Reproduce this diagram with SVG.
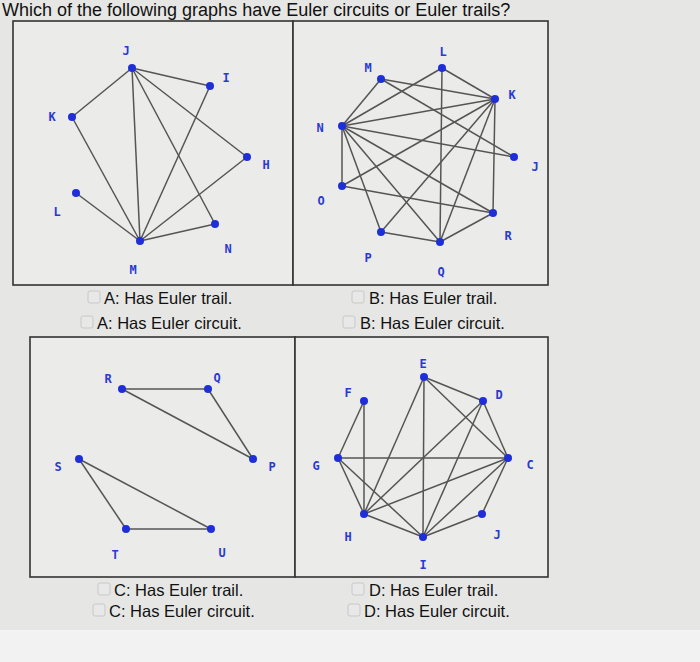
<svg xmlns="http://www.w3.org/2000/svg" width="700" height="662" viewBox="0 0 700 662">
<style>
.bg{fill:#e6e6e4}
.panel{fill:#ebebea;stroke:#333;stroke-width:1.6}
.e line{stroke:#555;stroke-width:1.5}
.n{fill:#1f2fd8}
.lb{font-family:"DejaVu Sans Mono","Liberation Mono",monospace;font-weight:bold;font-size:12px;fill:#2a3ad0;text-anchor:middle}
.t{font-family:"Liberation Sans",Arial,sans-serif;font-size:16.5px;fill:#111}
.cb{fill:#e8e8e8;stroke:#c8c8c8;stroke-width:1}
</style>
<rect class="bg" width="700" height="662"/>
<rect x="0" y="630" width="700" height="32" fill="#f2f2f2"/>
<text class="t" x="2" y="16" style="font-size:18px">Which of the following graphs have Euler circuits or Euler trails?</text>
<rect class="panel" x="13" y="21" width="280" height="264"/>
<rect class="panel" x="293" y="21" width="255" height="264"/>
<rect class="panel" x="30" y="337" width="265" height="240"/>
<rect class="panel" x="295" y="337" width="253" height="240"/>
<g class="e" id="connectors">
<line x1="132" y1="68" x2="210" y2="86"/><line x1="132" y1="68" x2="72" y2="117"/><line x1="132" y1="68" x2="140" y2="241"/><line x1="132" y1="68" x2="247" y2="157"/><line x1="132" y1="68" x2="215" y2="224"/><line x1="210" y1="86" x2="140" y2="241"/><line x1="72" y1="117" x2="140" y2="241"/><line x1="76" y1="193" x2="140" y2="241"/><line x1="247" y1="157" x2="140" y2="241"/><line x1="215" y1="224" x2="140" y2="241"/>
<line x1="381" y1="79" x2="495" y2="99"/><line x1="381" y1="79" x2="342" y2="126"/><line x1="381" y1="79" x2="514" y2="157"/><line x1="442" y1="68" x2="342" y2="126"/><line x1="442" y1="68" x2="495" y2="99"/><line x1="442" y1="68" x2="440" y2="242"/><line x1="495" y1="99" x2="342" y2="126"/><line x1="495" y1="99" x2="342" y2="186"/><line x1="495" y1="99" x2="381" y2="232"/><line x1="495" y1="99" x2="440" y2="242"/><line x1="495" y1="99" x2="493" y2="213"/><line x1="342" y1="126" x2="514" y2="157"/><line x1="342" y1="126" x2="342" y2="186"/><line x1="342" y1="126" x2="381" y2="232"/><line x1="342" y1="126" x2="440" y2="242"/><line x1="342" y1="126" x2="493" y2="213"/><line x1="342" y1="186" x2="493" y2="213"/><line x1="381" y1="232" x2="440" y2="242"/><line x1="440" y1="242" x2="493" y2="213"/>
<line x1="122" y1="389" x2="208" y2="389"/><line x1="122" y1="389" x2="253" y2="459"/><line x1="208" y1="389" x2="253" y2="459"/><line x1="79" y1="459" x2="126" y2="529"/><line x1="79" y1="459" x2="211" y2="529"/><line x1="126" y1="529" x2="211" y2="529"/>
<line x1="424" y1="377" x2="483" y2="401"/><line x1="424" y1="377" x2="508" y2="458"/><line x1="424" y1="377" x2="364" y2="514"/><line x1="424" y1="377" x2="423" y2="537"/><line x1="364" y1="401" x2="338" y2="458"/><line x1="364" y1="401" x2="364" y2="514"/><line x1="483" y1="401" x2="508" y2="458"/><line x1="483" y1="401" x2="364" y2="514"/><line x1="483" y1="401" x2="423" y2="537"/><line x1="338" y1="458" x2="508" y2="458"/><line x1="338" y1="458" x2="364" y2="514"/><line x1="338" y1="458" x2="423" y2="537"/><line x1="508" y1="458" x2="364" y2="514"/><line x1="508" y1="458" x2="423" y2="537"/><line x1="508" y1="458" x2="482" y2="514"/><line x1="364" y1="514" x2="423" y2="537"/><line x1="423" y1="537" x2="482" y2="514"/>
</g>
<g id="A-J"><circle class="n" cx="132" cy="68" r="4"/><text class="lb" x="126" y="55">J</text></g>
<g id="A-I"><circle class="n" cx="210" cy="86" r="4"/><text class="lb" x="226" y="82">I</text></g>
<g id="A-K"><circle class="n" cx="72" cy="117" r="4"/><text class="lb" x="52" y="121">K</text></g>
<g id="A-H"><circle class="n" cx="247" cy="157" r="4"/><text class="lb" x="266" y="169">H</text></g>
<g id="A-L"><circle class="n" cx="76" cy="193" r="4"/><text class="lb" x="57" y="216">L</text></g>
<g id="A-N"><circle class="n" cx="215" cy="224" r="4"/><text class="lb" x="228" y="253">N</text></g>
<g id="A-M"><circle class="n" cx="140" cy="241" r="4"/><text class="lb" x="133" y="274">M</text></g>
<g id="B-L"><circle class="n" cx="442" cy="68" r="4"/><text class="lb" x="443" y="56">L</text></g>
<g id="B-M"><circle class="n" cx="381" cy="79" r="4"/><text class="lb" x="368" y="72">M</text></g>
<g id="B-K"><circle class="n" cx="495" cy="99" r="4"/><text class="lb" x="512" y="99">K</text></g>
<g id="B-N"><circle class="n" cx="342" cy="126" r="4"/><text class="lb" x="320" y="132">N</text></g>
<g id="B-J"><circle class="n" cx="514" cy="157" r="4"/><text class="lb" x="535" y="171">J</text></g>
<g id="B-O"><circle class="n" cx="342" cy="186" r="4"/><text class="lb" x="321" y="205">O</text></g>
<g id="B-R"><circle class="n" cx="493" cy="213" r="4"/><text class="lb" x="508" y="240">R</text></g>
<g id="B-P"><circle class="n" cx="381" cy="232" r="4"/><text class="lb" x="368" y="262">P</text></g>
<g id="B-Q"><circle class="n" cx="440" cy="242" r="4"/><text class="lb" x="441" y="276">Q</text></g>
<g id="C-R"><circle class="n" cx="122" cy="389" r="4"/><text class="lb" x="108" y="383">R</text></g>
<g id="C-Q"><circle class="n" cx="208" cy="389" r="4"/><text class="lb" x="217" y="382">Q</text></g>
<g id="C-P"><circle class="n" cx="253" cy="459" r="4"/><text class="lb" x="272" y="471">P</text></g>
<g id="C-S"><circle class="n" cx="79" cy="459" r="4"/><text class="lb" x="58" y="471">S</text></g>
<g id="C-T"><circle class="n" cx="126" cy="529" r="4"/><text class="lb" x="115" y="559">T</text></g>
<g id="C-U"><circle class="n" cx="211" cy="529" r="4"/><text class="lb" x="222" y="557">U</text></g>
<g id="D-E"><circle class="n" cx="424" cy="377" r="4"/><text class="lb" x="423" y="368">E</text></g>
<g id="D-F"><circle class="n" cx="364" cy="401" r="4"/><text class="lb" x="348" y="397">F</text></g>
<g id="D-D"><circle class="n" cx="483" cy="401" r="4"/><text class="lb" x="499" y="399">D</text></g>
<g id="D-G"><circle class="n" cx="338" cy="458" r="4"/><text class="lb" x="316" y="470">G</text></g>
<g id="D-C"><circle class="n" cx="508" cy="458" r="4"/><text class="lb" x="530" y="469">C</text></g>
<g id="D-H"><circle class="n" cx="364" cy="514" r="4"/><text class="lb" x="348" y="541">H</text></g>
<g id="D-I"><circle class="n" cx="423" cy="537" r="4"/><text class="lb" x="423" y="569">I</text></g>
<g id="D-J"><circle class="n" cx="482" cy="514" r="4"/><text class="lb" x="497" y="539">J</text></g>
<g id="options">
<rect class="cb" x="88" y="291" width="12" height="12" rx="2"/><text class="t" x="104" y="304">A: Has Euler trail.</text>
<rect class="cb" x="81" y="316" width="12" height="12" rx="2"/><text class="t" x="97" y="329">A: Has Euler circuit.</text>
<rect class="cb" x="352" y="291" width="12" height="12" rx="2"/><text class="t" x="369" y="304">B: Has Euler trail.</text>
<rect class="cb" x="343" y="316" width="12" height="12" rx="2"/><text class="t" x="360" y="329">B: Has Euler circuit.</text>
<rect class="cb" x="98" y="583" width="12" height="12" rx="2"/><text class="t" x="114" y="596">C: Has Euler trail.</text>
<rect class="cb" x="93" y="604" width="12" height="12" rx="2"/><text class="t" x="109" y="617">C: Has Euler circuit.</text>
<rect class="cb" x="352" y="583" width="12" height="12" rx="2"/><text class="t" x="369" y="596">D: Has Euler trail.</text>
<rect class="cb" x="348" y="604" width="12" height="12" rx="2"/><text class="t" x="364" y="617">D: Has Euler circuit.</text>
</g>
</svg>
